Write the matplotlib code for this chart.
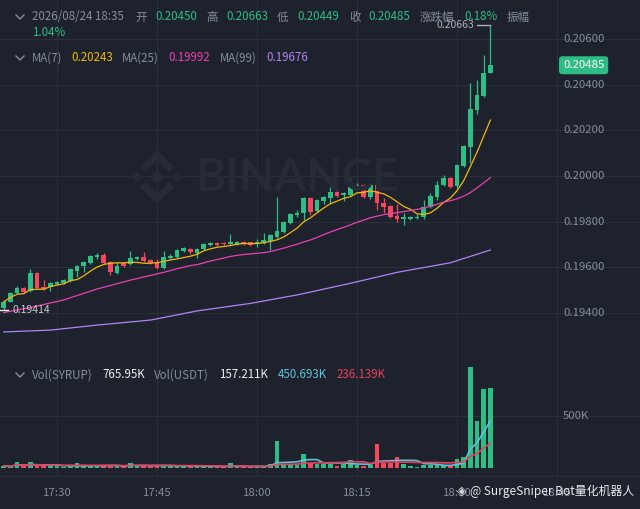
import matplotlib
matplotlib.use("Agg")
import matplotlib.pyplot as plt
import numpy as np
import pandas as pd
from matplotlib.lines import Line2D
from matplotlib.patches import Polygon

plt.rcParams['font.family'] = ['Noto Sans CJK SC', 'DejaVu Sans']

# Data: SYRUP/USDT 1m candles, 17:22 .. 18:35
start_time = "17:22"
opens = [0.19422, 0.19449, 0.19487, 0.19509, 0.19496, 0.19575, 0.19514, 0.19514, 0.19527, 0.19531,
         0.19540, 0.19584, 0.19606, 0.19619, 0.19645, 0.19654, 0.19623, 0.19575, 0.19619, 0.19615,
         0.19636, 0.19645, 0.19632, 0.19623, 0.19597, 0.19641, 0.19645, 0.19671, 0.19680, 0.19663,
         0.19680, 0.19698, 0.19707, 0.19707, 0.19702, 0.19702, 0.19711, 0.19709, 0.19707, 0.19707,
         0.19715, 0.19733, 0.19756, 0.19794, 0.19829, 0.19838, 0.19904, 0.19847, 0.19891, 0.19904,
         0.19930, 0.19917, 0.19917, 0.19951, 0.19961, 0.19908, 0.19961, 0.19882, 0.19869, 0.19825,
         0.19812, 0.19812, 0.19814, 0.19820, 0.19864, 0.19909, 0.19961, 0.19991, 0.19956, 0.20044,
         0.20128, 0.20290, 0.20352, 0.20450]
highs = [0.19457, 0.19492, 0.19518, 0.19512, 0.19593, 0.19580, 0.19544, 0.19535, 0.19540, 0.19549,
         0.19597, 0.19610, 0.19627, 0.19653, 0.19663, 0.19663, 0.19627, 0.19623, 0.19623, 0.19671,
         0.19649, 0.19667, 0.19636, 0.19636, 0.19671, 0.19658, 0.19680, 0.19689, 0.19685, 0.19685,
         0.19707, 0.19711, 0.19711, 0.19711, 0.19746, 0.19715, 0.19715, 0.19713, 0.19724, 0.19750,
         0.19746, 0.19908, 0.19803, 0.19838, 0.19851, 0.19908, 0.19908, 0.19899, 0.19913, 0.19952,
         0.19934, 0.19930, 0.19991, 0.19969, 0.19965, 0.19965, 0.19965, 0.19904, 0.19873, 0.19877,
         0.19838, 0.19825, 0.19834, 0.19895, 0.19925, 0.19978, 0.20004, 0.19995, 0.20052, 0.20135,
         0.20407, 0.20420, 0.20530, 0.20663]
lows = [0.19414, 0.19446, 0.19485, 0.19487, 0.19494, 0.19505, 0.19500, 0.19496, 0.19522, 0.19527,
        0.19536, 0.19558, 0.19580, 0.19615, 0.19636, 0.19615, 0.19566, 0.19571, 0.19602, 0.19610,
        0.19632, 0.19623, 0.19615, 0.19593, 0.19593, 0.19636, 0.19641, 0.19667, 0.19658, 0.19641,
        0.19676, 0.19693, 0.19693, 0.19696, 0.19698, 0.19698, 0.19698, 0.19693, 0.19689, 0.19702,
        0.19676, 0.19729, 0.19751, 0.19789, 0.19820, 0.19807, 0.19829, 0.19842, 0.19877, 0.19882,
        0.19908, 0.19891, 0.19912, 0.19947, 0.19904, 0.19899, 0.19851, 0.19838, 0.19816, 0.19798,
        0.19785, 0.19807, 0.19810, 0.19812, 0.19860, 0.19895, 0.19956, 0.19947, 0.19947, 0.20040,
        0.20057, 0.20272, 0.20345, 0.20449]
closes = [0.19448, 0.19489, 0.19509, 0.19492, 0.19575, 0.19509, 0.19505, 0.19531, 0.19536, 0.19544,
          0.19593, 0.19606, 0.19623, 0.19650, 0.19654, 0.19619, 0.19580, 0.19606, 0.19606, 0.19641,
          0.19645, 0.19628, 0.19619, 0.19597, 0.19645, 0.19650, 0.19676, 0.19685, 0.19667, 0.19680,
          0.19702, 0.19707, 0.19698, 0.19700, 0.19711, 0.19711, 0.19702, 0.19698, 0.19711, 0.19720,
          0.19742, 0.19759, 0.19798, 0.19834, 0.19838, 0.19904, 0.19842, 0.19895, 0.19908, 0.19930,
          0.19912, 0.19925, 0.19952, 0.19961, 0.19908, 0.19961, 0.19882, 0.19864, 0.19820, 0.19812,
          0.19820, 0.19821, 0.19821, 0.19864, 0.19912, 0.19961, 0.19991, 0.19952, 0.20048, 0.20131,
          0.20293, 0.20355, 0.20451, 0.20485]
# volume in thousands of SYRUP
volumes = [16, 10, 55, 16, 52, 19, 16, 13, 13, 10, 19, 42, 19, 16, 13, 19, 26, 19, 16, 42,
           16, 16, 13, 26, 22, 16, 19, 16, 13, 13, 16, 10, 6, 3, 42, 13, 3, 3, 13, 13,
           32, 261, 26, 26, 26, 129, 48, 32, 32, 39, 16, 32, 74, 26, 19, 26, 226, 48, 48, 100,
           32, 16, 10, 26, 26, 26, 26, 20, 81, 106, 977, 452, 758, 765.95]

# MA(25) before enough history, MA(99) (history not on screen)
ma25_early_idx = [0, 4, 9, 14, 19]
ma25_early = [0.19402, 0.19424, 0.19457, 0.19505, 0.19544]
ma99_idx = [0, 7, 14, 22, 29, 37, 44, 52, 59, 67, 73]
ma99_vals = [0.19317, 0.19325, 0.19347, 0.19369, 0.19409, 0.19442, 0.19479, 0.19530, 0.19578, 0.19620, 0.19676]

time_labels = ["17:30", "17:45", "18:00", "18:15", "18:30", "18:45"]
price_ticks = [0.20600, 0.20400, 0.20200, 0.20000, 0.19800, 0.19600, 0.19400]
vol_ticks = [500]

# colours
bg = "#1e222c"
grid = "#2a2f39"
gray = "#848e9c"
green = "#2ebd85"
red = "#f6465d"
c_ma7, c_ma25, c_ma99 = "#f0b90b", "#eb40b5", "#b084f5"
c_vma1, c_vma2 = "#5ec3dc", "#e6415f"

W, H = 640, 509
def fx(px):
    return px / W
def fy(py):
    return 1 - py / H

fig = plt.figure(figsize=(6.4, 5.09), dpi=100, facecolor=bg)
ax = fig.add_axes([0, fy(360), 1, 360 / H], facecolor="none")
axv = fig.add_axes([0, fy(477), 1, 117 / H], facecolor="none")

n = len(closes)
x = np.arange(n)
up = np.array(closes) >= np.array(opens)
cols = np.where(up, green, red)

def tmin(s):
    h, m = s.split(":")
    return int(h) * 60 + int(m)
t0 = tmin(start_time)
tick_idx = [tmin(t) - t0 for t in time_labels]

for a in (ax, axv):
    a.set_xlim(-0.555, 95.44)
    a.set_xticks([])
    a.set_yticks([])
    for s in a.spines.values():
        s.set_visible(False)
    for ti in tick_idx:
        a.axvline(ti, color=grid, lw=0.8, zorder=0)

ax.set_ylim(0.191941, 0.207708)
axv.set_ylim(-90, 1041)

for p in price_ticks:
    ax.axhline(p, color=grid, lw=0.8, zorder=0)
    ax.text(fx(563), p, f"{p:.5f}", transform=ax.get_yaxis_transform(),
            color=gray, fontsize=8.2, va="center", ha="left")
for v in vol_ticks:
    axv.axhline(v, color=grid, lw=0.8, zorder=0)
    axv.text(fx(563), v, f"{v}K", transform=axv.get_yaxis_transform(),
             color=gray, fontsize=8.2, va="center", ha="left")
axv.axhline(-90, color=grid, lw=1.2)

# watermark
fig.text(fx(195), fy(178), "BINANCE", color="#262b35", fontsize=33, fontweight="bold",
         family="Lato", va="center", ha="left", zorder=0)
cx, cy = 157, 177
def diamond(x0, y0, r):
    return [(fx(x0 - r), fy(y0)), (fx(x0), fy(y0 - r)), (fx(x0 + r), fy(y0)), (fx(x0), fy(y0 + r))]
for (dx, dy, r) in [(0, 0, 7), (-20, 0, 5), (20, 0, 5)]:
    fig.patches.append(Polygon(diamond(cx + dx, cy + dy, r), closed=True, fc="#262b35", ec="none",
                               transform=fig.transFigure, zorder=0))
for sgn in (1, -1):
    pts = [(cx, cy - sgn * 27), (cx + 17, cy - sgn * 10), (cx + 12, cy - sgn * 5),
           (cx, cy - sgn * 17), (cx - 12, cy - sgn * 5), (cx - 17, cy - sgn * 10)]
    fig.patches.append(Polygon([(fx(a), fy(b)) for a, b in pts], closed=True, fc="#262b35",
                               ec="none", transform=fig.transFigure, zorder=0))

# candles
ax.vlines(x, lows, highs, colors=cols, lw=0.9, zorder=3)
body = np.maximum(np.abs(np.array(closes) - np.array(opens)), 0.000018)
ax.bar(x, body, bottom=np.minimum(opens, closes), width=0.7, color=cols, zorder=4)

# moving averages
cs = pd.Series(closes)
ma7 = cs.rolling(7, min_periods=1).mean()
ma25 = cs.rolling(25).mean()
ax.plot(x, ma7, color=c_ma7, lw=0.9, zorder=5)
ax.plot(ma25_early_idx + list(x[24:]), ma25_early + list(ma25[24:]), color=c_ma25, lw=0.9, zorder=5)
ax.plot(ma99_idx, ma99_vals, color=c_ma99, lw=0.9, zorder=5)

# high / low markers
hi_i = int(np.argmax(highs))
lo_i = int(np.argmin(lows))
ax.plot([hi_i - 1.95, hi_i], [highs[hi_i]] * 2, color="#aab0b8", lw=1, zorder=6)
ax.text(hi_i - 2.35, highs[hi_i], f"{highs[hi_i]:.5f}", color="#aab0b8", fontsize=7.5,
        ha="right", va="center", zorder=6)
ax.plot([lo_i - 0.555, lo_i + 0.65], [lows[lo_i]] * 2, color="#e8eaed", lw=1, zorder=6)
ax.text(lo_i + 1.25, lows[lo_i], f"{lows[lo_i]:.5f}", color="#c8ccd2", fontsize=7.5,
        ha="left", va="center", zorder=6)

# last price tag
ax.text(fx(563), closes[-1], f"{closes[-1]:.5f}", transform=ax.get_yaxis_transform(),
        color="white", fontsize=8.2, va="center", ha="left", zorder=7,
        bbox=dict(boxstyle="round,pad=0.35,rounding_size=0.3", fc=green, ec="none"))

# volume
axv.bar(x, volumes, width=0.7, color=cols, zorder=3)
vs = pd.Series(volumes)
axv.plot(x, vs.rolling(7, min_periods=1).mean(), color=c_vma1, lw=1.2, zorder=4)
axv.plot(x, vs.rolling(14, min_periods=1).mean(), color=c_vma2, lw=1.2, zorder=4)

# time labels
for ti, lab in zip(tick_idx, time_labels):
    axv.text(ti, -0.137, lab, transform=axv.get_xaxis_transform(), color=gray,
             fontsize=8.2, ha="center", va="center", clip_on=False)

# header rows
def chevron(py):
    fig.add_artist(Line2D([fx(16), fx(20), fx(24)], [fy(py - 2), fy(py + 2), fy(py - 2)],
                          color=gray, lw=1))

def row(py, parts):
    for px, txt, c in parts:
        fig.text(fx(px), fy(py), txt, color=c, fontsize=8.3, ha="left", va="center")

chevron(17)
row(17, [(32, "2026/08/24 18:35", gray), (135, "开", gray), (155, "0.20450", green),
         (206, "高", gray), (226, "0.20663", green), (277, "低", gray), (297, "0.20449", green),
         (349, "收", gray), (368, "0.20485", green), (420, "涨跌幅", gray), (464, "0.18%", green),
         (507, "振幅", gray)])
row(33, [(32, "1.04%", green)])
chevron(58)
row(58, [(32, "MA(7)", gray), (71, "0.20243", c_ma7), (122, "MA(25)", gray),
         (168, "0.19992", c_ma25), (220, "MA(99)", gray), (266, "0.19676", c_ma99)])
chevron(375)
row(375, [(32, "Vol(SYRUP)", gray), (102, "765.95K", "#eaecef"), (154, "Vol(USDT)", gray),
          (219, "157.211K", "#eaecef"), (278, "450.693K", c_vma1), (337, "236.139K", c_vma2)])

# bottom-right watermark
fig.text(fx(462), fy(491), "◈", color="#d0d3d8", fontsize=9, family="DejaVu Sans",
         ha="center", va="center")
fig.text(fx(470), fy(491), "@ SurgeSniper Bot量化机器人", color="#e8eaed", fontsize=8.6,
         ha="left", va="center")

fig.savefig("out.png", dpi=100, facecolor=bg)
